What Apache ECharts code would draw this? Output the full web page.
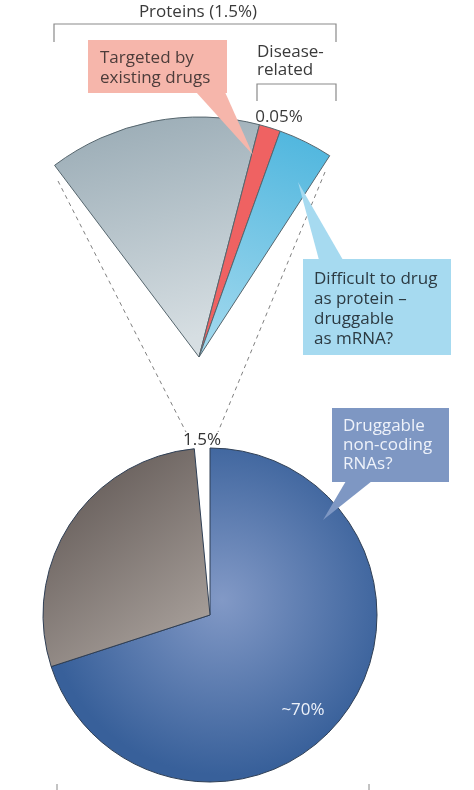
<!DOCTYPE html>
<html>
<head>
<meta charset="utf-8">
<script src="https://cdn.jsdelivr.net/npm/echarts@6/dist/echarts.min.js"></script>
<style>
  html, body { margin: 0; padding: 0; background: #ffffff; }
  #chart { width: 474px; height: 790px; }
</style>
</head>
<body>
<div id="chart"></div>
<script>
// Whole-genome breakdown (percent of genome)
const genomeLabels = ['Druggable non-coding RNAs', 'Other non-coding', 'Proteins'];
const genomeShares = [70, 28.5, 1.5];

// Protein-coding fan (relative shares within the 1.5% wedge)
const proteinLabels = ['Other proteins', 'Targeted by existing drugs', 'Difficult to drug as protein'];
const proteinShares = [73.7, 7.4, 18.9];

// Annotation texts
const proteinsTitle = 'Proteins (1.5%)';
const diseaseText = 'Disease-\nrelated';
const diseaseShare = '0.05%';
const proteinSliceText = '1.5%';
const rnaShareText = '~70%';
const targetedText = 'Targeted by\nexisting drugs';
const mrnaText = 'Difficult to drug\nas protein \u2013\ndruggable\nas mRNA?';
const ncrnaText = 'Druggable\nnon-coding\nRNAs?';

const FONT = '"Open Sans", "Noto Sans", sans-serif';
const G = echarts.graphic;

const chart = echarts.init(document.getElementById('chart'), null, { renderer: 'canvas' });

const fanColors = [
  new G.LinearGradient(0, 0, 0.3, 1, [
    { offset: 0, color: '#97a9b3' },
    { offset: 1, color: '#d6dee2' }
  ]),
  '#ef6262',
  new G.LinearGradient(0.8, 0, 0.2, 1, [
    { offset: 0, color: '#4fb6de' },
    { offset: 1, color: '#a3d9ee' }
  ])
];

const genomeColors = [
  new G.RadialGradient(222, 600, 175, [
    { offset: 0, color: '#8299c6' },
    { offset: 1, color: '#38609a' }
  ], true),
  new G.LinearGradient(0.1, 0, 0.9, 0.8, [
    { offset: 0, color: '#5c5350' },
    { offset: 1, color: '#a39b96' }
  ]),
  'rgba(0,0,0,0)'
];

const option = {
  animation: false,
  backgroundColor: '#ffffff',
  series: [
    {
      type: 'pie',
      name: 'Proteins',
      center: [199, 357],
      radius: [0, 240],
      startAngle: 127,
      endAngle: 57,
      clockwise: true,
      silent: true,
      label: { show: false },
      labelLine: { show: false },
      itemStyle: { borderColor: '#56666e', borderWidth: 1 },
      data: proteinLabels.map((n, i) => ({
        name: n, value: proteinShares[i], itemStyle: { color: fanColors[i] }
      }))
    },
    {
      type: 'pie',
      name: 'Genome',
      center: [210, 615],
      radius: [0, 167],
      startAngle: 90,
      clockwise: true,
      silent: true,
      label: { show: false },
      labelLine: { show: false },
      data: genomeLabels.map((n, i) => ({
        name: n, value: genomeShares[i],
        itemStyle: i === 2
          ? { color: genomeColors[i], borderWidth: 0 }
          : { color: genomeColors[i], borderColor: '#2f3f55', borderWidth: 1 }
      }))
    }
  ],
  graphic: [
    // Proteins bracket
    { type: 'text', z: 10, style: { text: proteinsTitle, x: 198, y: 12, align: 'center', verticalAlign: 'middle',
      font: '17px ' + FONT, fill: '#3a3a3a' } },
    { type: 'polyline', z: 10, shape: { points: [[54, 42], [54, 24], [336, 24], [336, 42]] },
      style: { stroke: '#8a8a8a', lineWidth: 1.2, fill: null } },
    // Disease-related bracket
    { type: 'text', z: 10, style: { text: diseaseText, x: 257, y: 61, align: 'left', verticalAlign: 'middle',
      font: '17px ' + FONT, fill: '#3a3a3a', lineHeight: 18 } },
    { type: 'polyline', z: 10, shape: { points: [[257, 101], [257, 84], [336, 84], [336, 101]] },
      style: { stroke: '#8a8a8a', lineWidth: 1.2, fill: null } },
    { type: 'text', z: 10, style: { text: diseaseShare, x: 279, y: 117, align: 'center', verticalAlign: 'middle',
      font: '17px ' + FONT, fill: '#3a3a3a' } },
    // Dashed guides between the fan and the genome wedge
    { type: 'line', z: 1, shape: { x1: 58, y1: 181, x2: 186, y2: 432 },
      style: { stroke: '#808080', lineWidth: 1, lineDash: [4, 4] } },
    { type: 'line', z: 1, shape: { x1: 325, y1: 172, x2: 218, y2: 432 },
      style: { stroke: '#808080', lineWidth: 1, lineDash: [4, 4] } },
    // Targeted by existing drugs callout
    { type: 'polygon', z: 10, shape: { points: [[196, 92], [225, 92], [253, 155]] },
      style: { fill: '#f6b6ab' } },
    { type: 'rect', z: 10, shape: { x: 88, y: 40, width: 139, height: 53 },
      style: { fill: '#f6b6ab' } },
    { type: 'text', z: 11, style: { text: targetedText, x: 100, y: 68, align: 'left', verticalAlign: 'middle',
      font: '17px ' + FONT, fill: '#4c3c3a', lineHeight: 20 } },
    // mRNA callout
    { type: 'polygon', z: 10, shape: { points: [[298, 182], [319, 260], [343, 260]] },
      style: { fill: '#a6daf0' } },
    { type: 'rect', z: 10, shape: { x: 303, y: 259, width: 148, height: 96 },
      style: { fill: '#a6daf0' } },
    { type: 'text', z: 11, style: { text: mrnaText, x: 314, y: 309, align: 'left', verticalAlign: 'middle',
      font: '17px ' + FONT, fill: '#2c3a42', lineHeight: 20 } },
    // Protein wedge label
    { type: 'text', z: 10, style: { text: proteinSliceText, x: 202, y: 440, align: 'center', verticalAlign: 'middle',
      font: '17px ' + FONT, fill: '#333333' } },
    // Non-coding RNA callout
    { type: 'polygon', z: 10, shape: { points: [[346, 481], [372, 481], [323, 520]] },
      style: { fill: '#7e97c3' } },
    { type: 'rect', z: 10, shape: { x: 332, y: 408, width: 117, height: 74 },
      style: { fill: '#7e97c3' } },
    { type: 'text', z: 11, style: { text: ncrnaText, x: 343, y: 445, align: 'left', verticalAlign: 'middle',
      font: '17px ' + FONT, fill: '#eef2fa', lineHeight: 19 } },
    { type: 'text', z: 10, style: { text: rnaShareText, x: 303, y: 710, align: 'center', verticalAlign: 'middle',
      font: '17px ' + FONT, fill: '#eef2fa' } },
    // Bottom ticks
    { type: 'line', z: 1, shape: { x1: 57, y1: 784, x2: 57, y2: 790 }, style: { stroke: '#888', lineWidth: 1 } },
    { type: 'line', z: 1, shape: { x1: 369, y1: 784, x2: 369, y2: 790 }, style: { stroke: '#888', lineWidth: 1 } }
  ]
};

chart.setOption(option);
</script>
</body>
</html>
